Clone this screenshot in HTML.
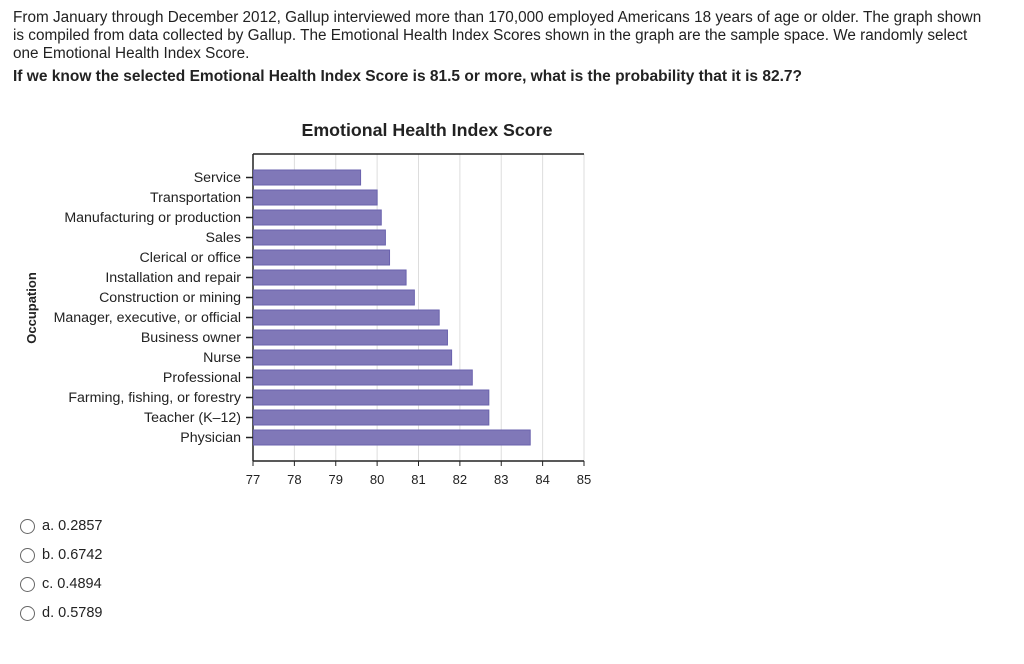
<!DOCTYPE html>
<html><head><meta charset="utf-8"><style>
body{margin:0;width:1024px;height:664px;background:#fff;font-family:"Liberation Sans",sans-serif;color:#222;position:relative;overflow:hidden}
.q{position:absolute;left:13px;top:9px;width:975px;font-size:15.3px;line-height:18px}
.b{position:absolute;left:13px;top:68px;font-size:15.5px;font-weight:bold;white-space:nowrap}
.opt{position:absolute;left:20px;font-size:14.5px;display:flex;align-items:center}
.opt span{display:inline-block;width:13px;height:13px;border:1px solid #666;border-radius:50%;margin-right:7px}
</style></head><body>
<div class="q">From January through December 2012, Gallup interviewed more than 170,000 employed Americans 18 years of age or older. The graph shown is compiled from data collected by Gallup. The Emotional Health Index Scores shown in the graph are the sample space. We randomly select one Emotional Health Index Score.</div>
<div class="b">If we know the selected Emotional Health Index Score is 81.5 or more, what is the probability that it is 82.7?</div>
<svg id="chart" width="1024" height="664" style="position:absolute;left:0;top:0"></svg>
<div class="opt" style="top:518px"><span></span>a. 0.2857</div>
<div class="opt" style="top:547px"><span></span>b. 0.6742</div>
<div class="opt" style="top:576px"><span></span>c. 0.4894</div>
<div class="opt" style="top:605px"><span></span>d. 0.5789</div>
<script>
const categories=["Service","Transportation","Manufacturing or production","Sales","Clerical or office","Installation and repair","Construction or mining","Manager, executive, or official","Business owner","Nurse","Professional","Farming, fishing, or forestry","Teacher (K–12)","Physician"];
const values=[79.6,80.0,80.1,80.2,80.3,80.7,80.9,81.5,81.7,81.8,82.3,82.7,82.7,83.7];
const ticks=[77,78,79,80,81,82,83,84,85];
const svg=document.getElementById('chart');const NS='http://www.w3.org/2000/svg';
const xs=v=>253+(v-77)*(584-253)/8;
const ys=i=>170+i*20;
function mk(t,a){const e=document.createElementNS(NS,t);for(const k in a)e.setAttribute(k,a[k]);svg.appendChild(e);return e;}
ticks.forEach(t=>{
 const g=mk('line',{x1:xs(t),x2:xs(t),y1:154,y2:461,stroke:'#ddd'});
 
 
 const tk=mk('line',{x1:xs(t),x2:xs(t),y1:461,y2:466,stroke:'#222'});
 
 
 const l=mk('text',{x:xs(t),y:484,'text-anchor':'middle','font-size':13,fill:'#222'});l.textContent=t;
 
 
});
const frameTop=mk('line',{x1:253,x2:584,y1:154,y2:154,stroke:'#222','stroke-width':1.5});


const ax=mk('line',{x1:253,x2:584,y1:461,y2:461,stroke:'#222','stroke-width':1.5});


const ay=mk('line',{x1:253,x2:253,y1:154,y2:461,stroke:'#222','stroke-width':1.5});


categories.forEach((c,i)=>{
 const r=mk('rect',{x:253.5,y:ys(i),width:xs(values[i])-253.5,height:15,fill:'#8078b8',stroke:'#6a62ad','stroke-width':1});
 
 
 const tk=mk('line',{x1:246,x2:253,y1:ys(i)+7.5,y2:ys(i)+7.5,stroke:'#222','stroke-width':1.5});
 
 
 const l=mk('text',{x:241,y:ys(i)+12,'text-anchor':'end','font-size':14.2,fill:'#222'});l.textContent=c;
 
 
});
const ttl=mk('text',{x:427,y:136,'text-anchor':'middle','font-size':17.8,'font-weight':'bold',fill:'#222'});ttl.textContent='Emotional Health Index Score';


const yt=mk('text',{x:0,y:0,'text-anchor':'middle','font-size':13,'font-weight':'bold',fill:'#222',transform:'translate(36,308) rotate(-90)'});yt.textContent='Occupation';


</script>
</body></html>
